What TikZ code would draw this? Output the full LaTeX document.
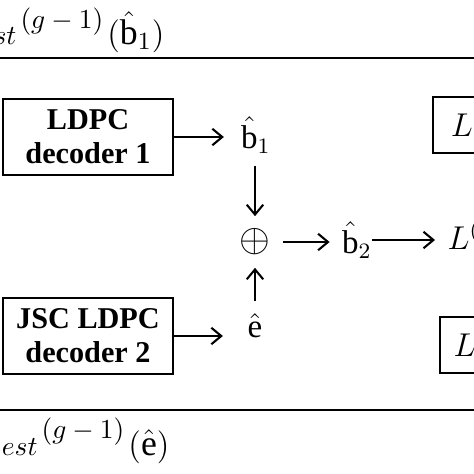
\documentclass[tikz,border=0pt]{standalone}
\usepackage{amsmath,amssymb}
\usepackage{fontspec}
\setmainfont{Liberation Serif}
\usepackage{tikz}
\usetikzlibrary{arrows.meta}

\newcommand{\estlabel}[1]{%
	{\fontsize{10}{12}\selectfont$est$}\hspace{1.5pt}%
	\raisebox{6pt}{\fontsize{10}{12}\selectfont$(g-1)$}\hspace{1.5pt}%
	{\fontsize{13}{15}\selectfont$(#1)$}}

\begin{document}
\begin{tikzpicture}[x=0.364pt,y=-0.364pt]
		
		\tikzset{
			box/.style={
				draw,
				line width=0.7pt,
				minimum width=62pt,
				minimum height=27.5pt,
				align=center,
				font=\fontsize{11}{12.4}\selectfont\bfseries
			},
			sym/.style={
				inner sep=4.4pt,
				font=\fontsize{12}{14}\selectfont
			},
			col/.style={
				sym,
				minimum width=23pt
			},
			lbox/.style={
				draw,
				line width=0.7pt,
				minimum height=20.4pt,
				text width=16pt,
				align=left,
				font=\fontsize{12}{14}\selectfont
			},
			lbl/.style={
				inner sep=0pt
			},
			arr/.style={
				-{Straight Barb[length=3.6pt,width=6pt]},
				line width=0.75pt
			}
		}
		
		\useasboundingbox (0,0) rectangle (474,474);
		\clip (0,0) rectangle (474,474);
		
		% upper and lower rules
		\draw[line width=0.9pt] (0,58) -- (474,58);
		\draw[line width=0.9pt] (0,410) -- (474,410);
		
		\node[lbl,anchor=base east] (esttop) at (165,45)
		{\estlabel{\hat{\mathrm{b}}_1}};
		\node[lbl,anchor=base east] (estbot) at (170,455)
		{\estlabel{\hat{\mathrm{e}}}};
		
		% decoders
		\node[box] (dec1) at (88,137) {LDPC\\decoder 1};
		\node[box] (dec2) at (88,336) {JSC LDPC\\decoder 2};
		
		% estimates and xor
		\node[col] (b1) at (256,135) {$\hat{\mathrm{b}}_1$};
		\node[col] (e) at (255,326) {$\hat{\mathrm{e}}$};
		\node[sym,font=\Large] (xor) at (255,242) {$\oplus$};
		\node[sym] (b2) at (357,240) {$\hat{\mathrm{b}}_2$};
		\node[sym,anchor=base west] (Lmid) at (435,249) {$L^{(g)}$};
		
		% right boxes
		\node[lbox,anchor=west,inner xsep=6.5pt] (Ltop) at (432,125) {$L$};
		\node[lbox,anchor=west,inner xsep=5pt] (Lbot) at (439,345) {$L$};
		
		\draw[arr] (dec1.east) -- (dec1.east -| b1.west);
		\draw[arr] (dec2.east) -- (dec2.east -| e.west);
		\draw[arr] (b1.south -| xor) -- (xor);
		\draw[arr] (e) -- (xor);
		\draw[arr] (xor.east) -- (xor.east -| b2.west);
		\draw[arr] ([xshift=-4.4pt]b2.east) -- (b2.east -| Lmid.west);
		
	\end{tikzpicture}
\end{document}
